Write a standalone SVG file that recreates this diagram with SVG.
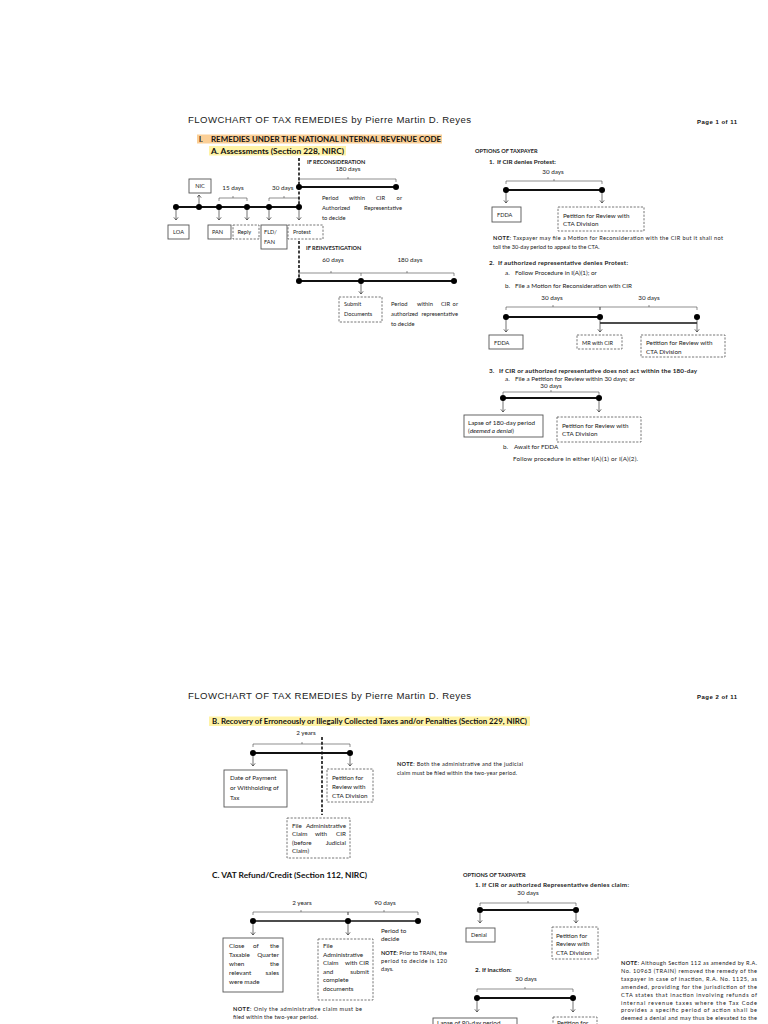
<svg xmlns="http://www.w3.org/2000/svg" width="768" height="1024" viewBox="0 0 768 1024">
<style>
.t{font-family:Lato,"Liberation Sans",sans-serif;font-size:6.3px;fill:#222}
.s{font-size:5.6px}
.p{font-size:5.8px}
.b{font-weight:bold}
.i{font-style:italic}
.h{font-family:Lato,"Liberation Sans",sans-serif;font-weight:bold;font-size:7.4px;fill:#111}
.title{font-family:"Liberation Sans",Arial,sans-serif;font-size:9.6px;fill:#222}
.pg{font-family:"Liberation Sans",Arial,sans-serif;font-weight:bold;font-size:6px;fill:#111}
.box{fill:#fff;stroke:#555;stroke-width:0.9}
.dbox{fill:#fff;stroke:#666;stroke-width:0.9;stroke-dasharray:2.2 1.4}
.tl{stroke:#111;stroke-width:2;fill:none}
.tn{stroke:#111;stroke-width:1.3;fill:none}
.br{stroke:#444;stroke-width:0.6;fill:none}
.ar{stroke:#333;stroke-width:0.7;fill:none;marker-end:url(#ah)}
.dv{stroke:#111;stroke-width:1.6;stroke-dasharray:3 1.8;fill:none}
.dot{fill:#000}
.m{text-anchor:middle}
.e{text-anchor:end}
</style>
<defs>
<marker id="ah" markerWidth="6" markerHeight="6" refX="3" refY="2.5" orient="auto" markerUnits="userSpaceOnUse">
<path d="M0.3,0.3 L3,2.5 L0.3,4.7" fill="none" stroke="#333" stroke-width="0.7"/>
</marker>
</defs>

<!-- ================= PAGE 1 ================= -->
<g id="page1-header">
<text class="title" x="188" y="123" textLength="283" lengthAdjust="spacing">FLOWCHART OF TAX REMEDIES by Pierre Martin D. Reyes</text>
<text class="pg" x="697" y="124" textLength="40" lengthAdjust="spacing">Page 1 of 11</text>
<rect x="197" y="134.5" width="245" height="9" fill="#fbcf96"/>
<text class="h" x="199" y="141.8" style="font-size:7px">I.</text>
<text class="h" x="211" y="141.8" style="font-size:7px" textLength="230" lengthAdjust="spacingAndGlyphs">REMEDIES UNDER THE NATIONAL INTERNAL REVENUE CODE</text>
<rect x="209" y="146" width="137" height="9.5" fill="#fff3a6"/>
<text class="h" x="211" y="153.6" textLength="133" lengthAdjust="spacingAndGlyphs">A.  Assessments (Section 228, NIRC)</text>
</g>

<g id="connectors">
<!-- page 1 main timeline -->
<path class="tl" d="M176 207 H299"/>
<path class="br" d="M219 201 V198 H247 V201 M233 198 V196"/>
<path class="br" d="M269 201 V198 H299 V201 M284 198 V196"/>
<text class="t m" x="233" y="190">15 days</text>
<text class="t" x="272" y="189.5">30 days</text>
<path class="ar" d="M176 209 V220"/>
<path class="ar" d="M199 205 V195"/>
<path class="ar" d="M219 209 V220"/>
<path class="ar" d="M247 209 V220"/>
<path class="ar" d="M269 209 V220"/>
<path class="ar" d="M299 209 V220"/>
<!-- dashed divider -->
<path class="dv" d="M299 158 V205"/>
<path class="dv" d="M299 241 V281"/>
<!-- reconsideration -->
<text class="t b s" x="307" y="163.5">IF RECONSIDERATION</text>
<text class="t m" x="348" y="171">180 days</text>
<path class="br" d="M299 182 V179 H396 V182 M348 179 V177"/>
<path class="tl" d="M299 187 H396"/>
<text class="t p" x="322" y="199.5">Period</text>
<text class="t p" x="349" y="199.5">within</text>
<text class="t p" x="376" y="199.5">CIR</text>
<text class="t p e" x="402" y="199.5">or</text>
<text class="t p" x="322" y="209.5">Authorized</text>
<text class="t p e" x="402" y="209.5">Representative</text>
<text class="t p" x="322" y="219.5">to decide</text>
<!-- reinvestigation -->
<text class="t b s" x="306" y="249.5">IF REINVESTIGATION</text>
<text class="t m" x="333" y="262">60 days</text>
<text class="t m" x="410" y="262">180 days</text>
<path class="br" d="M299 276 V273 H454 V276 M331 273 V271 M407 273 V271 M361 273 V276"/>
<path class="tl" d="M299 281 H454"/>
<path class="ar" d="M361 283 V294"/>
<text class="t p" x="391" y="305.5">Period</text>
<text class="t p" x="417" y="305.5">within</text>
<text class="t p" x="441" y="305.5">CIR</text>
<text class="t p e" x="458" y="305.5">or</text>
<text class="t p" x="391" y="315.5">authorized</text>
<text class="t p e" x="458" y="315.5">representative</text>
<text class="t p" x="391" y="325.5">to decide</text>

<!-- page 1 right: option 1 -->
<text class="t m" x="553" y="174">30 days</text>
<path class="br" d="M506 184 V181 H602 V184 M554 181 V179"/>
<path class="tl" d="M506 190 H602"/>
<path class="ar" d="M506 192 V203"/>
<path class="ar" d="M602 192 V203"/>
<!-- option 2b -->
<text class="t m" x="552" y="300">30 days</text>
<text class="t m" x="649" y="300">30 days</text>
<path class="br" d="M506 310 V307 H600 V310 M553 307 V305"/>
<path class="br" d="M600 310 V307 H697 V310 M649 307 V305"/>
<path class="tl" d="M506 317 H600"/>
<path class="tn" d="M600 323 H697"/>
<path class="ar" d="M506 319 V332"/>
<path class="ar" d="M600 319 V332"/>
<path class="ar" d="M697 319 V332"/>
<!-- option 3a -->
<text class="t m" x="551" y="388">30 days</text>
<path class="br" d="M503 395 V392 H599 V395 M551 392 V390"/>
<path class="tl" d="M503 398 H599"/>
<path class="ar" d="M503 400 V412"/>
<path class="ar" d="M599 400 V412"/>

<!-- page 2 section B -->
<text class="t m" x="306" y="734.5">2 years</text>
<path class="br" d="M253 747 V744 H350 V747 M302 744 V742"/>
<path class="dv" d="M322 737 V815"/>
<path class="tl" d="M253 753 H350"/>
<path class="ar" d="M253 755 V766"/>
<path class="ar" d="M350 755 V766"/>

<!-- page 2 section C -->
<text class="t m" x="302" y="904.5">2 years</text>
<text class="t m" x="385" y="904.5">90 days</text>
<path class="br" d="M253 915 V912 H348 V915 M301 912 V910"/>
<path class="br" d="M348 915 V912 H418 V915 M384 912 V910"/>
<path class="tn" d="M253 921 H418"/>
<path class="ar" d="M253 923 V935"/>
<path class="ar" d="M348 923 V935"/>
<text class="t" x="381" y="932.5">Period to</text>
<text class="t" x="381" y="941">decide</text>

<!-- page 2 right options -->
<text class="t m" x="528" y="894.5">30 days</text>
<path class="br" d="M480 906 V903 H576 V906 M528 903 V901"/>
<path class="tl" d="M480 910 H576"/>
<path class="ar" d="M480 912 V923"/>
<path class="ar" d="M576 912 V923"/>
<text class="t m" x="526" y="980.5">30 days</text>
<path class="br" d="M477 992 V989 H573 V992 M525 989 V987"/>
<path class="tl" d="M477 998 H573"/>
<path class="ar" d="M477 1000 V1012"/>
<path class="ar" d="M573 1000 V1012"/>

<!-- dots -->
<g class="dot">
<circle cx="176" cy="207" r="3"/><circle cx="199" cy="207" r="3"/><circle cx="219" cy="207" r="3"/>
<circle cx="247" cy="207" r="3"/><circle cx="269" cy="207" r="3"/><circle cx="299" cy="207" r="3"/>
<circle cx="299" cy="187" r="3"/><circle cx="396" cy="187" r="3"/>
<circle cx="299" cy="281" r="3"/><circle cx="361" cy="281" r="3"/><circle cx="454" cy="281" r="3"/>
<circle cx="506" cy="190" r="3"/><circle cx="602" cy="190" r="3"/>
<circle cx="506" cy="317" r="3"/><circle cx="600" cy="317" r="3"/><circle cx="697" cy="317" r="3"/>
<circle cx="503" cy="398" r="3"/><circle cx="599" cy="398" r="3"/>
<circle cx="253" cy="753" r="3"/><circle cx="350" cy="753" r="3"/>
<circle cx="253" cy="921" r="3"/><circle cx="348" cy="921" r="3"/><circle cx="418" cy="921" r="3"/>
<circle cx="480" cy="910" r="3"/><circle cx="576" cy="910" r="3"/>
<circle cx="477" cy="998" r="3"/><circle cx="573" cy="998" r="3"/>
</g>
</g>

<!-- page 1 nodes -->
<g id="nic"><rect class="box" x="189" y="179" width="22" height="14"/><text class="t s m" x="200" y="188">NIC</text></g>
<g id="loa"><rect class="box" x="168" y="225" width="21" height="14"/><text class="t s m" x="178.5" y="234">LOA</text></g>
<g id="pan"><rect class="box" x="208" y="225" width="23" height="14"/><text class="t s" x="212" y="234">PAN</text></g>
<g id="reply"><rect class="dbox" x="233" y="225" width="26" height="14"/><text class="t s" x="237.5" y="234">Reply</text></g>
<g id="fldfan"><rect class="box" x="261" y="225" width="26" height="24"/><text class="t s" x="264" y="234">FLD/</text><text class="t s" x="264" y="244">FAN</text></g>
<g id="protest"><rect class="dbox" x="288" y="225" width="35" height="14"/><text class="t s" x="293" y="234">Protest</text></g>
<g id="submit"><rect class="dbox" x="339" y="297" width="43" height="25"/><text class="t s" x="344" y="306">Submit</text><text class="t s" x="344" y="316">Documents</text></g>

<g id="options1">
<text class="t b s" x="475" y="152.5">OPTIONS OF TAXPAYER</text>
<text class="t b" x="489" y="163.5">1.</text>
<text class="t b" x="497" y="163.5">If CIR denies Protest:</text>
</g>
<g id="fdda1"><rect class="box" x="492" y="207" width="29" height="15"/><text class="t s" x="497" y="216.5">FDDA</text></g>
<g id="petition1"><rect class="dbox" x="558" y="207" width="86" height="24"/><text class="t" x="563" y="217.5">Petition for Review with</text><text class="t" x="563" y="226">CTA Division</text></g>
<g id="note1">
<text class="t s" x="493" y="240" textLength="230" lengthAdjust="spacing"><tspan class="b">NOTE</tspan>: Taxpayer may file a Motion for Reconsideration with the CIR but it shall not</text>
<text class="t s" x="493" y="249">toll the 30-day period to appeal to the CTA.</text>
</g>
<g id="option2">
<text class="t b" x="489" y="264.5">2.</text>
<text class="t b" x="498" y="264.5" textLength="130" lengthAdjust="spacing">If authorized representative denies Protest:</text>
<text class="t" x="505" y="274.5">a.</text>
<text class="t" x="515" y="274.5">Follow Procedure in I(A)(1); or</text>
<text class="t" x="505" y="287.5">b.</text>
<text class="t" x="515" y="287.5" textLength="117" lengthAdjust="spacing">File a Motion for Reconsideration with CIR</text>
</g>
<g id="fdda2"><rect class="box" x="489" y="335" width="34" height="14"/><text class="t s" x="494" y="344.5">FDDA</text></g>
<g id="mr"><rect class="dbox" x="577" y="335" width="45" height="14"/><text class="t s" x="582" y="344.5">MR with CIR</text></g>
<g id="petition2"><rect class="dbox" x="641" y="335" width="84" height="22"/><text class="t" x="646" y="345">Petition for Review with</text><text class="t" x="646" y="353.5">CTA Division</text></g>
<g id="option3">
<text class="t b" x="489" y="372.5">3.</text>
<text class="t b" x="499" y="372.5" textLength="198" lengthAdjust="spacing">If CIR or authorized representative does not act within the 180-day</text>
<text class="t" x="505" y="381">a.</text>
<text class="t" x="515" y="381" textLength="120" lengthAdjust="spacing">File a Petition for Review within 30 days; or</text>
</g>
<g id="lapse180"><rect class="box" x="464" y="415" width="79" height="22"/><text class="t" x="468" y="424.5">Lapse of 180-day period</text><text class="t" x="468" y="433">(<tspan class="i">deemed a denial</tspan>)</text></g>
<g id="petition3"><rect class="dbox" x="557" y="417" width="84" height="25"/><text class="t" x="562" y="427.5">Petition for Review with</text><text class="t" x="562" y="436">CTA Division</text></g>
<g id="option3b">
<text class="t" x="503" y="448.5">b.</text>
<text class="t" x="514" y="448.5">Await for FDDA</text>
<text class="t" x="513" y="460.5" textLength="125" lengthAdjust="spacing">Follow procedure in either I(A)(1) or I(A)(2).</text>
</g>

<!-- ================= PAGE 2 ================= -->
<g id="page2-header">
<text class="title" x="188" y="698.5" textLength="283" lengthAdjust="spacing">FLOWCHART OF TAX REMEDIES by Pierre Martin D. Reyes</text>
<text class="pg" x="697" y="699" textLength="40" lengthAdjust="spacing">Page 2 of 11</text>
<rect x="209" y="716.5" width="321" height="9.5" fill="#fff3a6"/>
<text class="h" x="212" y="724" textLength="315" lengthAdjust="spacingAndGlyphs">B.  Recovery of Erroneously or Illegally Collected Taxes and/or Penalties (Section 229, NIRC)</text>
</g>
<g id="date-payment"><rect class="box" x="224" y="770" width="63" height="37"/>
<text class="t" x="230" y="780">Date of Payment</text><text class="t" x="230" y="790">or Withholding of</text><text class="t" x="230" y="800">Tax</text></g>
<g id="petitionB"><rect class="dbox" x="327" y="769" width="46" height="33"/>
<text class="t" x="332" y="780">Petition for</text><text class="t" x="332" y="789">Review with</text><text class="t" x="332" y="798">CTA Division</text></g>
<g id="file-admin-B"><rect class="dbox" x="287" y="818" width="63" height="40"/>
<text class="t" x="292" y="827.5">File</text><text class="t e" x="346" y="827.5">Administrative</text>
<text class="t" x="292" y="836">Claim</text><text class="t m" x="321" y="836">with</text><text class="t e" x="346" y="836">CIR</text>
<text class="t" x="292" y="844.5">(before</text><text class="t e" x="346" y="844.5">Judicial</text>
<text class="t" x="292" y="853">Claim)</text></g>
<g id="noteB">
<text class="t s" x="397" y="766" textLength="126" lengthAdjust="spacing"><tspan class="b">NOTE</tspan>: Both the administrative and the judicial</text>
<text class="t s" x="397" y="775" textLength="120" lengthAdjust="spacing">claim must be filed within the two-year period.</text>
</g>

<g id="headingC"><text class="h" x="212" y="878" textLength="155" lengthAdjust="spacingAndGlyphs">C.  VAT Refund/Credit (Section 112, NIRC)</text></g>
<g id="close-quarter"><rect class="box" x="223" y="938" width="60" height="54"/>
<text class="t" x="229" y="948">Close</text><text class="t" x="253" y="948">of</text><text class="t e" x="279" y="948">the</text>
<text class="t" x="229" y="957">Taxable</text><text class="t e" x="279" y="957">Quarter</text>
<text class="t" x="229" y="966">when</text><text class="t e" x="279" y="966">the</text>
<text class="t" x="229" y="975">relevant</text><text class="t e" x="279" y="975">sales</text>
<text class="t" x="229" y="984">were made</text></g>
<g id="file-admin-C"><rect class="dbox" x="318" y="939" width="55" height="61"/>
<text class="t" x="323" y="948">File</text>
<text class="t" x="323" y="956.5">Administrative</text>
<text class="t" x="323" y="965">Claim</text><text class="t" x="345" y="965">with</text><text class="t e" x="369" y="965">CIR</text>
<text class="t" x="323" y="973.5">and</text><text class="t e" x="369" y="973.5">submit</text>
<text class="t" x="323" y="982">complete</text>
<text class="t" x="323" y="990.5">documents</text></g>
<g id="noteC-train">
<text class="t s" x="381" y="955" textLength="66" lengthAdjust="spacing"><tspan class="b">NOTE</tspan>: Prior to TRAIN, the</text>
<text class="t s" x="381" y="963" textLength="66" lengthAdjust="spacing">period to decide is 120</text>
<text class="t s" x="381" y="971">days.</text>
</g>
<g id="noteC-left">
<text class="t s" x="233" y="1011" textLength="129" lengthAdjust="spacing"><tspan class="b">NOTE</tspan>: Only the administrative claim must be</text>
<text class="t s" x="233" y="1019" textLength="85" lengthAdjust="spacing">filed within the two-year period.</text>
</g>

<g id="optionsC">
<text class="t b s" x="463" y="876.5">OPTIONS OF TAXPAYER</text>
<text class="t b" x="475" y="886.5">1.</text>
<text class="t b" x="482" y="886.5" textLength="147" lengthAdjust="spacing">If CIR or authorized Representative denies claim:</text>
<text class="t b" x="475" y="971.5">2.</text>
<text class="t b" x="482" y="971.5">If inaction:</text>
</g>
<g id="denial"><rect class="box" x="466" y="928" width="29" height="14"/><text class="t s" x="471" y="937">Denial</text></g>
<g id="petitionC1"><rect class="dbox" x="552" y="927" width="46" height="32"/>
<text class="t" x="556" y="937.5">Petition for</text><text class="t" x="556" y="946">Review with</text><text class="t" x="556" y="954.5">CTA Division</text></g>
<g id="lapse90"><rect class="box" x="433" y="1018" width="84" height="20"/><text class="t" x="437" y="1024.5">Lapse of 90-day period</text></g>
<g id="petitionC2"><rect class="dbox" x="553" y="1017" width="44" height="20"/><text class="t" x="557" y="1024.5">Petition for</text></g>
<g id="noteC-right">
<text class="t s" x="621" y="965" textLength="136" lengthAdjust="spacing"><tspan class="b">NOTE</tspan>: Although Section 112 as amended by R.A.</text>
<text class="t s" x="621" y="972.9" textLength="136" lengthAdjust="spacing">No. 10963 (TRAIN) removed the remedy of the</text>
<text class="t s" x="621" y="980.8" textLength="136" lengthAdjust="spacing">taxpayer in case of inaction, R.A. No. 1125, as</text>
<text class="t s" x="621" y="988.7" textLength="136" lengthAdjust="spacing">amended, providing for the jurisdiction of the</text>
<text class="t s" x="621" y="996.6" textLength="136" lengthAdjust="spacing">CTA states that inaction involving refunds of</text>
<text class="t s" x="621" y="1004.5" textLength="136" lengthAdjust="spacing">internal revenue taxes where the Tax Code</text>
<text class="t s" x="621" y="1012.4" textLength="136" lengthAdjust="spacing">provides a specific period of action shall be</text>
<text class="t s" x="621" y="1020.3" textLength="136" lengthAdjust="spacing">deemed a denial and may thus be elevated to the</text>
</g>
</svg>
